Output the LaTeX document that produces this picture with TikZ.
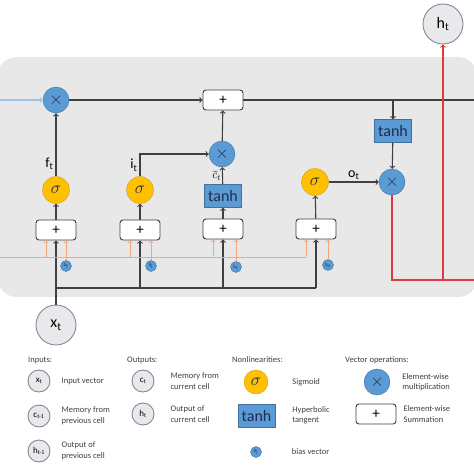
\documentclass[tikz,border=0pt]{standalone}
\usepackage{fontspec}
\setmainfont{Carlito}
\usetikzlibrary{positioning}
\definecolor{cellgray}{HTML}{E8E8E8}
\definecolor{opblue}{HTML}{5B9BD5}
\definecolor{opedge}{HTML}{41719C}
\definecolor{sigyellow}{HTML}{FFC000}
\definecolor{sigedge}{HTML}{C9A227}
\definecolor{navy}{HTML}{1F2D4D}
\definecolor{darkwire}{HTML}{404040}
\definecolor{biasline}{HTML}{F4A77A}
\definecolor{outred}{HTML}{E0393E}
\definecolor{inblue}{HTML}{9DC3E6}
\definecolor{portfill}{HTML}{E9E9EC}
\definecolor{portedge}{HTML}{7F8A99}

\begin{document}
\begin{tikzpicture}[x=1pt,y=-1pt,
	every node/.style={text=darkwire},
	mult/.style={circle,draw=opedge,fill=opblue,minimum size=26pt,inner sep=0pt,text=navy,font=\fontsize{16}{16}\selectfont},
	sig/.style={circle,draw=sigedge,fill=sigyellow,minimum size=27pt,inner sep=0pt,text=navy,font=\fontsize{17}{17}\selectfont},
	sum/.style={rectangle,rounded corners=3pt,draw=darkwire,line width=0.9pt,fill=white,minimum width=40pt,minimum height=20pt,inner sep=0pt,text=black,font=\fontsize{15}{15}\selectfont},
	act/.style={rectangle,draw=opedge,fill=opblue,minimum width=37pt,minimum height=23pt,inner sep=0pt,text=navy,font=\fontsize{16}{16}\selectfont},
	port/.style={circle,draw=portedge,line width=0.9pt,fill=portfill,minimum size=40pt,inner sep=0pt,text=black,font=\fontsize{16}{16}\selectfont},
	bias/.style={circle,draw=opedge,fill=opblue,minimum size=11pt,inner sep=0pt,text=navy,font=\fontsize{5}{5}\selectfont},
	lab/.style={font=\fontsize{14}{14}\selectfont,text=black,inner sep=2pt},
	flow/.style={->,draw=darkwire,line width=1.1pt},
	cflow/.style={->,draw=inblue,line width=1.1pt},
	bflow/.style={->,draw=biasline,line width=0.9pt},
	hflow/.style={->,draw=outred,line width=1.1pt},
	head/.style={anchor=west,inner sep=0pt,font=\fontsize{8.5}{10}\selectfont},
	legtext/.style={align=left,inner sep=0pt,font=\fontsize{8.5}{10.5}\selectfont},
	legport/.style={port,minimum size=22pt,font=\fontsize{9}{9}\selectfont}]
	\useasboundingbox (0,0) rectangle (474,474);
	\fill[cellgray,rounded corners=20pt] (-3,57) rectangle (478,297);

	\node[mult] (fmul) at (56,100) {$\times$};
	\node[sum] (csum) at (223,100) {+};
	\node[act] (ctanh) at (393,131) {tanh};
	\node[mult] (omul) at (392,182) {$\times$};
	\node[sig] (osig) at (315,182) {$\sigma$};
	\node[sig] (fsig) at (56,190) {$\sigma$};
	\node[sig] (isig) at (140,190) {$\sigma$};
	\node[mult] (imul) at (222,154) {$\times$};
	\node[act] (gtanh) at (223,196) {tanh};
	\node[sum] (fsum) at (56,230) {+};
	\node[sum] (isum) at (140,230) {+};
	\node[sum] (gsum) at (223,229) {+};
	\node[sum] (osum) at (316,229) {+};
	\node[bias] (bf) at (66,266) {b\textsubscript{f}};
	\node[bias] (bi) at (151,266) {b\textsubscript{i}};
	\node[bias] (bc) at (236,267) {b\textsubscript{c}};
	\node[bias] (bo) at (328,265) {b\textsubscript{o}};
	\node[port] (x) at (56,325) {x\textsubscript{t}};
	\node[port] (h) at (443,24) {h\textsubscript{t}};

	\coordinate (cin) at (0,100);
	\coordinate (cout) at (474,100);
	\coordinate (bus) at (56,288);
	\coordinate (busend) at (316,288);
	\coordinate (bline) at (0,257);
	\coordinate (blineend) at (306,257);
	\coordinate (hjoin) at (443,280);
	\coordinate (hend) at (474,280);

	\path (cin) edge[cflow] (fmul)
		(fmul) edge[flow] (csum)
		(csum) edge[draw=darkwire,line width=1.1pt] (cout)
		(ctanh |- cout) edge[flow] (ctanh)
		(ctanh) edge[flow] (omul)
		(fsum) edge[flow] (fsig)
		(fsig) edge[flow] node[left,lab,pos=0.2] {f\textsubscript{t}} (fmul)
		(isum) edge[flow] (isig)
		(gsum) edge[flow] (gtanh)
		(gtanh) edge[flow] node[left,lab,inner sep=1pt,font=\fontsize{12}{12}\selectfont] {$\widetilde{c}_t$} (imul)
		(imul) edge[flow] (csum)
		(osum) edge[flow] (osig)
		(osig) edge[flow] node[above,lab] {o\textsubscript{t}} (omul)
		(x) edge[flow] (fsum);
	\draw[flow] (isig) |- node[left,lab,pos=0.25] {i\textsubscript{t}} (imul);
	\draw[draw=darkwire,line width=1.1pt] (bus) -- (busend);
	\draw[flow] (bus -| isum) -- (isum);
	\draw[flow] (bus -| gsum) -- (gsum);
	\draw[flow] (busend) -- (osum);
	\draw[draw=biasline,line width=0.9pt] (bline) -- (blineend);
	\draw[bflow] (blineend) -- (blineend |- osum.south);
	\foreach \g in {fsum,isum,gsum}
		\draw[bflow] ([xshift=-10pt,yshift=-17pt]\g.south) -- ([xshift=-10pt]\g.south);
	\foreach \g/\b in {fsum/bf,isum/bi,gsum/bc,osum/bo}
		\draw[bflow] (\b) -- (\b |- \g.south);
	\draw[draw=outred,line width=1.1pt] (omul) |- (hend);
	\draw[hflow] (hjoin) -- (h);

	\node[head] (hin) at (28,360) {Inputs:};
	\node[head] (hres) at (127,360) {Outputs:};
	\node[head] (hnl) at (232,360) {Nonlinearities:};
	\node[head] (hop) at (345,360) {Vector operations:};
	\node[legport] (lx) at (39,381) {x\textsubscript{t}};
	\node[legport] (lc) at (39,416) {c\textsubscript{t-1}};
	\node[legport] (lh) at (39,451) {h\textsubscript{t-1}};
	\node[legport] (lct) at (143,381) {c\textsubscript{t}};
	\node[legport] (lht) at (143,414) {h\textsubscript{t}};
	\node[sig,minimum size=24pt] (lsig) at (256,382) {$\sigma$};
	\node[act] (ltanh) at (256.5,415.5) {tanh};
	\node[bias] (lb) at (256,452) {b\textsubscript{i}};
	\node[mult] (lmul) at (377,382) {$\times$};
	\node[sum] (lsum) at (376,414) {+};
	\node[legtext,right=11pt of lx] {Input vector};
	\node[legtext,right=11pt of lc] {Memory from\\previous cell};
	\node[legtext,right=11pt of lh] {Output of\\previous cell};
	\node[legtext,right=16pt of lct] {Memory from\\current cell};
	\node[legtext,right=16pt of lht] {Output of\\current cell};
	\node[legtext,right=24pt of lsig] {Sigmoid};
	\node[legtext,right=17pt of ltanh] {Hyperbolic\\tangent};
	\node[legtext,right=30pt of lb] {bias vector};
	\node[legtext,right=12pt of lmul] {Element-wise\\multiplication};
	\node[legtext,right=7pt of lsum] {Element-wise\\Summation};
\end{tikzpicture}
\end{document}
